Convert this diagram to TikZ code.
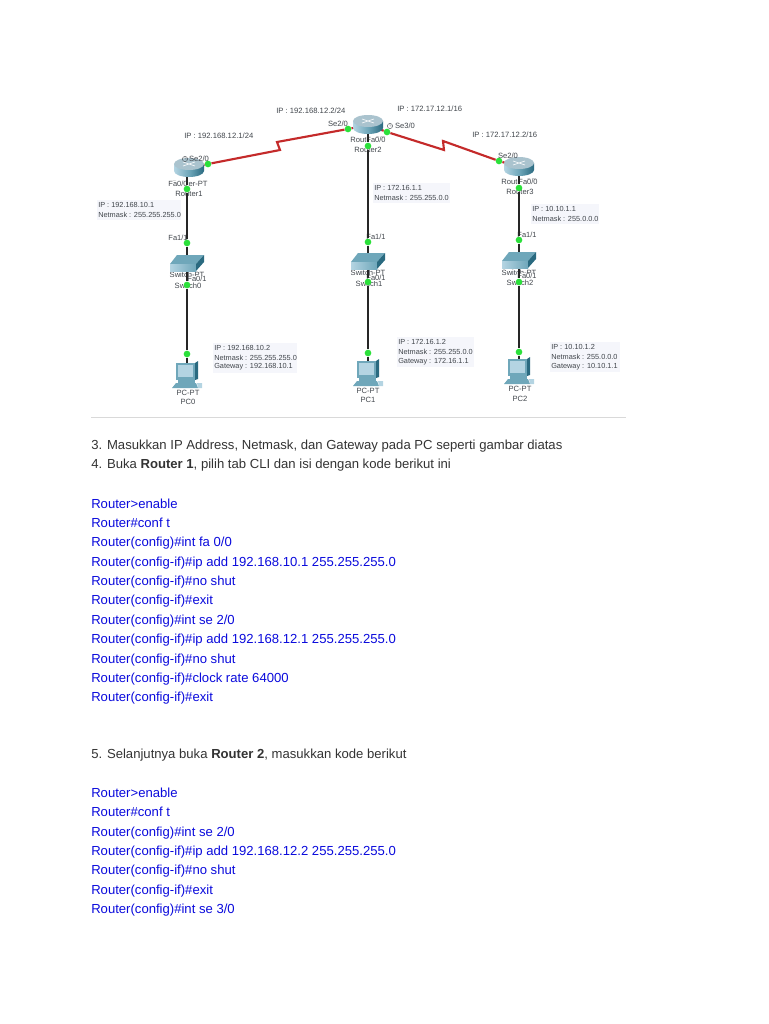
\documentclass[tikz,border=0pt]{standalone}
\usepackage{fontspec}
\setmainfont{Liberation Sans}
\usepackage{tikz}

\definecolor{portgreen}{HTML}{2BE03A}
\definecolor{serialred}{HTML}{C42A2A}
\definecolor{codeblue}{HTML}{0A0ADC}
\definecolor{bodygrey}{HTML}{333333}
\definecolor{labelgrey}{HTML}{40454B}
\definecolor{infobg}{HTML}{F5F6FB}
\definecolor{iconlight}{HTML}{B4D4E2}
\definecolor{iconmid}{HTML}{6FA7BA}
\definecolor{icondark}{HTML}{2A6A80}

\tikzset{
  port/.style={circle,fill=portgreen,inner sep=0pt,minimum size=5pt},
  devlabel/.style={font=\fontsize{5.7}{7}\selectfont,text=labelgrey,inner sep=0pt},
  portlabel/.style={font=\fontsize{5.6}{7}\selectfont,text=labelgrey,inner sep=0.2pt,fill=white},
  infolabel/.style={font=\fontsize{5.5}{7}\selectfont,text=labelgrey,inner sep=0pt,anchor=west},
  seriallabel/.style={font=\fontsize{5.75}{7}\selectfont,text=labelgrey,inner sep=0pt,anchor=west},
  bodyline/.style={font=\fontsize{9.83}{11}\selectfont,text=bodygrey,inner sep=0pt,anchor=base west},
  codeline/.style={font=\fontsize{9.83}{11}\selectfont,text=codeblue,inner sep=0pt,anchor=base west},
  routerpic/.pic={
    \shade[left color=iconlight,right color=icondark,middle color=iconmid]
      (-15,-4) -- (-15,3) arc (180:0:15 and 6) -- (15,-4) -- cycle;
    \fill[iconlight!80!gray] (0,-4) ellipse (15 and 6);
    \draw[white,line width=0.4pt] (-6,-6) -- (6,-2) (-6,-2) -- (6,-6);
  },
  switchpic/.pic={
    \fill[iconmid] (-17,-1) -- (-10,-10) -- (17,-10) -- (9,-1) -- cycle;
    \shade[left color=iconlight,right color=iconmid] (-17,-1) rectangle (9,6);
    \fill[icondark] (9,-1) -- (17,-10) -- (17,-3) -- (9,6) -- cycle;
  },
  pcpic/.pic={
    \fill[iconmid] (-11,-12) rectangle (8,5);
    \fill[icondark] (8,-12) -- (11,-14) -- (11,4) -- (8,5) -- cycle;
    \fill[iconlight] (-9,-10) rectangle (6,2);
    \fill[iconmid] (-9,5) rectangle (8,8);
    \fill[iconmid] (-15,13) -- (-11,8) -- (9,8) -- (11,13) -- cycle;
    \fill[iconlight] (10,8) -- (15,8) -- (15,13) -- (11,13) -- cycle;
  }
}

\begin{document}
\begin{tikzpicture}[x=0.75pt,y=-0.75pt]
\useasboundingbox (0,0) rectangle (768,1024);

% info label backgrounds
\fill[infobg] (97,200) rectangle (181,220);
\fill[infobg] (373,183) rectangle (450,203);
\fill[infobg] (531,204) rectangle (599,224);
\fill[infobg] (213,343) rectangle (297,373);
\fill[infobg] (397,337) rectangle (474,367);
\fill[infobg] (550,342) rectangle (620,372);

% device labels
\node[devlabel] (rtypeA) at (190,184) {Router-PT};
\node[devlabel] (rtypeB) at (368,140) {Router-PT};
\node[devlabel] (rtypeC) at (519,182) {Router-PT};
\node[devlabel] (rnameA) at (189,194) {Router1};
\node[devlabel] (rnameB) at (368,150) {Router2};
\node[devlabel] (rnameC) at (520,192) {Router3};
\node[devlabel] (stypeA) at (187,275) {Switch-PT};
\node[devlabel] (stypeB) at (368,273) {Switch-PT};
\node[devlabel] (stypeC) at (519,273) {Switch-PT};
\node[devlabel] (snameA) at (188,286) {Switch0};
\node[devlabel] (snameB) at (369,284) {Switch1};
\node[devlabel] (snameC) at (520,283) {Switch2};
\node[devlabel] (ptypeA) at (188,393) {PC-PT};
\node[devlabel] (ptypeB) at (368,391) {PC-PT};
\node[devlabel] (ptypeC) at (520,389) {PC-PT};
\node[devlabel] (pnameA) at (188,402) {PC0};
\node[devlabel] (pnameB) at (368,400) {PC1};
\node[devlabel] (pnameC) at (520,399) {PC2};

% port labels
\node[portlabel] (lbAfa) at (178,184) {Fa0/0};
\node[portlabel] (lbBfa) at (376,140) {Fa0/0};
\node[portlabel] (lbCfa) at (528,182) {Fa0/0};
\node[portlabel] (lbAup) at (178,238) {Fa1/1};
\node[portlabel] (lbBup) at (376,237) {Fa1/1};
\node[portlabel] (lbCup) at (527,235) {Fa1/1};
\node[portlabel] (lbAdn) at (197,279) {Fa0/1};
\node[portlabel] (lbBdn) at (376,278) {Fa0/1};
\node[portlabel] (lbCdn) at (527,276) {Fa0/1};

% ports
\node[port] (raFa) at (187,189) {};
\node[port] (rbFa) at (368,146) {};
\node[port] (rcFa) at (519,188) {};
\node[port] (raSe) at (208,164) {};
\node[port] (rbSe) at (348,129) {};
\node[port] (rbSf) at (387,132) {};
\node[port] (rcSe) at (499,161) {};
\node[port] (saUp) at (187,243) {};
\node[port] (sbUp) at (368,242) {};
\node[port] (scUp) at (519,240) {};
\node[port] (saDn) at (187,285) {};
\node[port] (sbDn) at (368,282) {};
\node[port] (scDn) at (519,282) {};
\node[port] (paUp) at (187,354) {};
\node[port] (pbUp) at (368,353) {};
\node[port] (pcUp) at (519,352) {};

% device centres and zigzag corners
\coordinate (rtrA) at (189,168);
\coordinate (rtrB) at (368,125);
\coordinate (rtrC) at (519,167);
\coordinate (swA) at (187,265);
\coordinate (swB) at (368,263);
\coordinate (swC) at (519,262);
\coordinate (pcA) at (187,375);
\coordinate (pcB) at (368,373);
\coordinate (pcC) at (519,371);
\coordinate (zigA) at (280,150);
\coordinate (zigB) at (277,142);
\coordinate (zigC) at (444,150);
\coordinate (zigD) at (443,141);

% serial links
\draw[serialred,line width=1.6pt] (rtrA) -- (raSe) -- (zigA) -- (zigB) -- (rbSe) -- (rtrB);
\draw[serialred,line width=1.6pt] (rtrB) -- (rbSf) -- (zigC) -- (zigD) -- (rcSe) -- (rtrC);

% ethernet links
\begin{scope}[line width=1.8pt,black!85]
\draw (raFa |- rtrA) -- (raFa) -- (saUp) -- (saDn) -- (paUp) -- (pcA);
\draw (rtrB) -- (rbFa) -- (sbUp) -- (sbDn) -- (pbUp) -- (pcB);
\draw (rtrC) -- (rcFa) -- (scUp) -- (scDn) -- (pcUp) -- (pcC);
\end{scope}

% device icons
\pic at (rtrA) {routerpic};
\pic at (rtrB) {routerpic};
\pic at (rtrC) {routerpic};
\pic at (swA) {switchpic};
\pic at (swB) {switchpic};
\pic at (swC) {switchpic};
\pic at (pcA) {pcpic};
\pic at (pcB) {pcpic};
\pic at (pcC) {pcpic};

% redraw the port dots over the links
\foreach \p in {raFa,rbFa,rcFa,raSe,rbSe,rbSf,rcSe,saUp,sbUp,scUp,saDn,sbDn,scDn,paUp,pbUp,pcUp}
  \fill[portgreen] (\p) circle (2.5);

% serial port labels and clock marks
\node[devlabel] (lbAse) at (199,159) {Se2/0};
\node[devlabel] (lbBse) at (338,124) {Se2/0};
\node[devlabel] (lbBsf) at (405,126) {Se3/0};
\node[devlabel] (lbCse) at (508,156) {Se2/0};
\draw[labelgrey,line width=0.3pt] (185,159) circle (2.6) (185,157) -- (185,159) -- (186.5,159);
\draw[labelgrey,line width=0.3pt] (390,126) circle (2.6) (390,124) -- (390,126) -- (391.5,126);

% serial addresses
\node[seriallabel] (ipRa) at (184,136) {IP : 192.168.12.1/24};
\node[seriallabel] (ipRb) at (276,111) {IP : 192.168.12.2/24};
\node[seriallabel] (ipRc) at (397,109) {IP : 172.17.12.1/16};
\node[seriallabel] (ipRd) at (472,135) {IP : 172.17.12.2/16};

% lan addresses
\node[infolabel] (ipLa) at (98,205) {IP : 192.168.10.1};
\node[infolabel] (nmLa) at (98,215) {Netmask : 255.255.255.0};
\node[infolabel] (ipLb) at (374,188) {IP : 172.16.1.1};
\node[infolabel] (nmLb) at (374,198) {Netmask : 255.255.0.0};
\node[infolabel] (ipLc) at (532,209) {IP : 10.10.1.1};
\node[infolabel] (nmLc) at (532,219) {Netmask : 255.0.0.0};

% pc addresses
\node[infolabel] (ipPa) at (214,348) {IP : 192.168.10.2};
\node[infolabel] (nmPa) at (214,358) {Netmask : 255.255.255.0};
\node[infolabel] (gwPa) at (214,367) {Gateway : 192.168.10.1};
\node[infolabel] (ipPb) at (398,342) {IP : 172.16.1.2};
\node[infolabel] (nmPb) at (398,352) {Netmask : 255.255.0.0};
\node[infolabel] (gwPb) at (398,362) {Gateway : 172.16.1.1};
\node[infolabel] (ipPc) at (551,347) {IP : 10.10.1.2};
\node[infolabel] (nmPc) at (551,357) {Netmask : 255.0.0.0};
\node[infolabel] (gwPc) at (551,367) {Gateway : 10.10.1.1};

% rule under the figure
\draw[black!15,line width=0.6pt] (91,417.5) -- (626,417.5);

% text steps
\node[bodyline] (stepC) at (91,449) {3. Masukkan IP Address, Netmask, dan Gateway pada PC seperti gambar diatas};
\node[bodyline] (stepD) at (91,468) {4. Buka \textbf{Router 1}, pilih tab CLI dan isi dengan kode berikut ini};
\node[bodyline] (stepE) at (91,758) {5. Selanjutnya buka \textbf{Router 2}, masukkan kode berikut};

% router 1 commands
\node[codeline] (cmdAa) at (91,508) {Router>enable};
\node[codeline] (cmdAb) at (91,527) {Router\#conf t};
\node[codeline] (cmdAc) at (91,546) {Router(config)\#int fa 0/0};
\node[codeline] (cmdAd) at (91,566) {Router(config-if)\#ip add 192.168.10.1 255.255.255.0};
\node[codeline] (cmdAe) at (91,585) {Router(config-if)\#no shut};
\node[codeline] (cmdAf) at (91,604) {Router(config-if)\#exit};
\node[codeline] (cmdAg) at (91,624) {Router(config)\#int se 2/0};
\node[codeline] (cmdAh) at (91,643) {Router(config-if)\#ip add 192.168.12.1 255.255.255.0};
\node[codeline] (cmdAi) at (91,663) {Router(config-if)\#no shut};
\node[codeline] (cmdAj) at (91,682) {Router(config-if)\#clock rate 64000};
\node[codeline] (cmdAk) at (91,701) {Router(config-if)\#exit};

% router 2 commands
\node[codeline] (cmdBa) at (91,797) {Router>enable};
\node[codeline] (cmdBb) at (91,816) {Router\#conf t};
\node[codeline] (cmdBc) at (91,836) {Router(config)\#int se 2/0};
\node[codeline] (cmdBd) at (91,855) {Router(config-if)\#ip add 192.168.12.2 255.255.255.0};
\node[codeline] (cmdBe) at (91,874) {Router(config-if)\#no shut};
\node[codeline] (cmdBf) at (91,894) {Router(config-if)\#exit};
\node[codeline] (cmdBg) at (91,913) {Router(config)\#int se 3/0};

\end{tikzpicture}
\end{document}
